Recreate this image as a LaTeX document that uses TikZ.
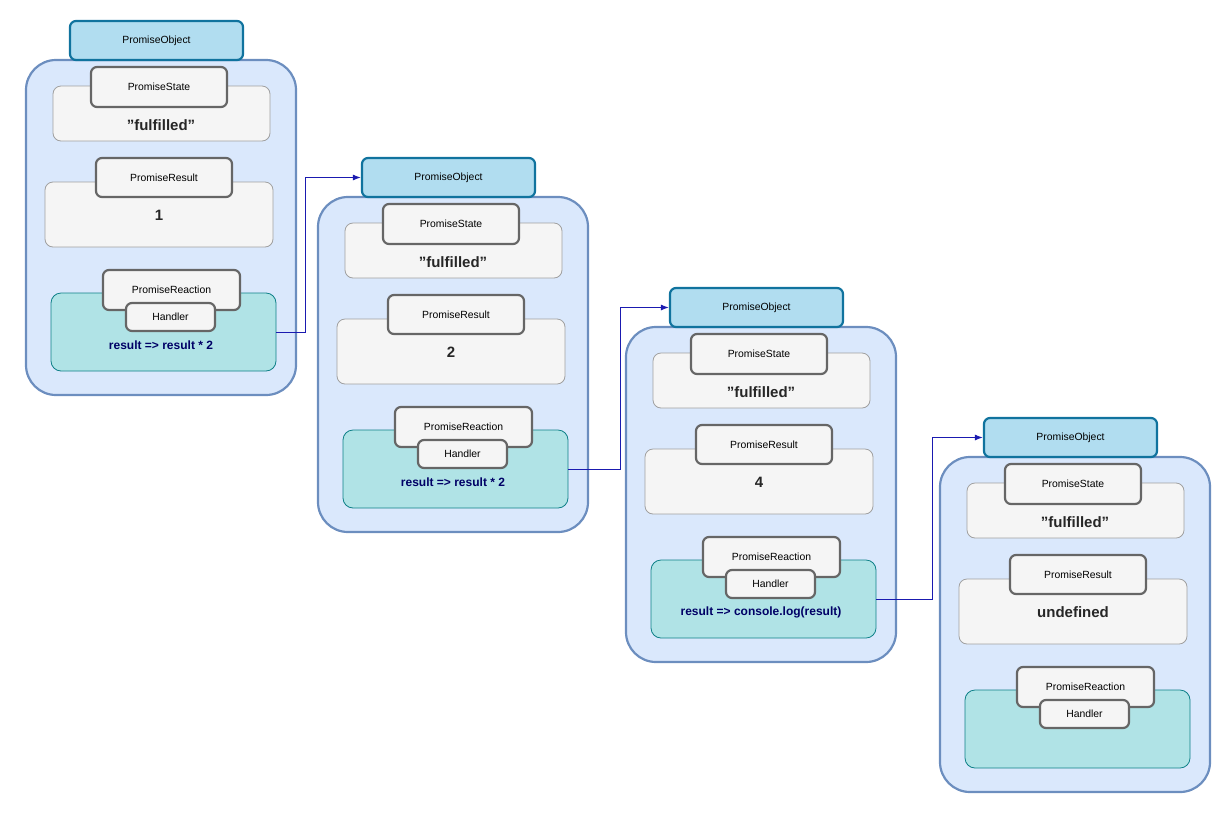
\documentclass[tikz,border=0pt]{standalone}
\usepackage{fontspec}
\setmainfont{Liberation Sans}
\usetikzlibrary{arrows.meta}
\definecolor{hdrF}{HTML}{B1DDF0}\definecolor{hdrD}{HTML}{10739E}
\definecolor{outF}{HTML}{DAE8FC}\definecolor{outD}{HTML}{6C8EBF}
\definecolor{gF}{HTML}{F5F5F5}\definecolor{gD}{HTML}{666666}\definecolor{gL}{HTML}{A0A0A0}
\definecolor{rF}{HTML}{B0E3E6}\definecolor{rD}{HTML}{0E8088}
\definecolor{navy}{HTML}{000066}\definecolor{arrC}{HTML}{1A1AB0}
\tikzset{
 bxs/.style={draw,inner sep=0pt,font=\fontsize{5.2}{6}\selectfont},
 hdr/.style={bxs,fill=hdrF,draw=hdrD,line width=1.1pt,rounded corners=3pt},
 outer/.style={bxs,fill=outF,draw=outD,line width=1.1pt,rounded corners=15pt},
 val/.style={bxs,fill=gF,draw=gL,line width=0.4pt,rounded corners=4pt},
 lab/.style={bxs,fill=gF,draw=gD,line width=1.1pt,rounded corners=3pt},
 react/.style={bxs,fill=rF,draw=rD,line width=0.4pt,rounded corners=5pt},
 vtxt/.style={inner sep=0pt,font=\fontsize{7.5}{9}\selectfont\bfseries,text=black!85},
 htxt/.style={inner sep=0pt,font=\fontsize{6}{7}\selectfont\bfseries,text=navy},
 arr/.style={draw=arrC,line width=0.5pt,-{Latex[length=4pt,width=3pt]}}
}
\newcommand\bx[7]{\node[#2, minimum width={((#5)-(#3))*0.5pt}, minimum height={((#6)-(#4))*0.5pt}] (#1) at ({((#3)+(#5))/2},{((#4)+(#6))/2}) {#7};}
\newcommand\col[6]{% name hx hy value handler sayhandler
 \bx{#1o}{outer}{#2-44}{#3+39}{#2+226}{#3+374}{}
 \bx{#1h}{hdr}{#2}{#3}{#2+173}{#3+39}{PromiseObject}
 \bx{#1s}{val}{#2-17}{#3+65}{#2+200}{#3+120}{}
 \bx{#1sl}{lab}{#2+21}{#3+46}{#2+157}{#3+86}{PromiseState}
 \node[vtxt] (#1sv) at ({#2+91},{#3+104}) {"fulfilled"};
 \bx{#1v}{val}{#2-25}{#3+161}{#2+203}{#3+226}{}
 \bx{#1vl}{lab}{#2+26}{#3+137}{#2+162}{#3+176}{PromiseResult}
 \node[vtxt] (#1vv) at ({#2+89},{#3+194}) {#4};
 \bx{#1r}{react}{#2-19}{#3+272}{#2+206}{#3+350}{}
 \bx{#1rl}{lab}{#2+33}{#3+249}{#2+170}{#3+289}{PromiseReaction}
 \bx{#1rh}{lab}{#2+56}{#3+282}{#2+145}{#3+310}{Handler}
 \node[htxt] (#1rt) at ({#2+91},{#3+324}) {#5};
}
\begin{document}
\begin{tikzpicture}[x=0.5pt,y=-0.5pt]
\useasboundingbox (0,0) rectangle (1232,815);
\col{a}{70}{21}{1}{result => result * 2}{}
\col{b}{362}{158}{2}{result => result * 2}{}
\col{c}{670}{288}{4}{result => console.log(result)}{}
\col{d}{984}{418}{undefined}{}{}
\coordinate (k1) at (305,0);
\coordinate (k2) at (620,0);
\coordinate (k3) at (932,0);
\draw[arr] (ar.east) -- (ar.east -| k1) |- (bh.west);
\draw[arr] (br.east) -- (br.east -| k2) |- (ch.west);
\draw[arr] (cr.east) -- (cr.east -| k3) |- (dh.west);
\end{tikzpicture}
\end{document}
